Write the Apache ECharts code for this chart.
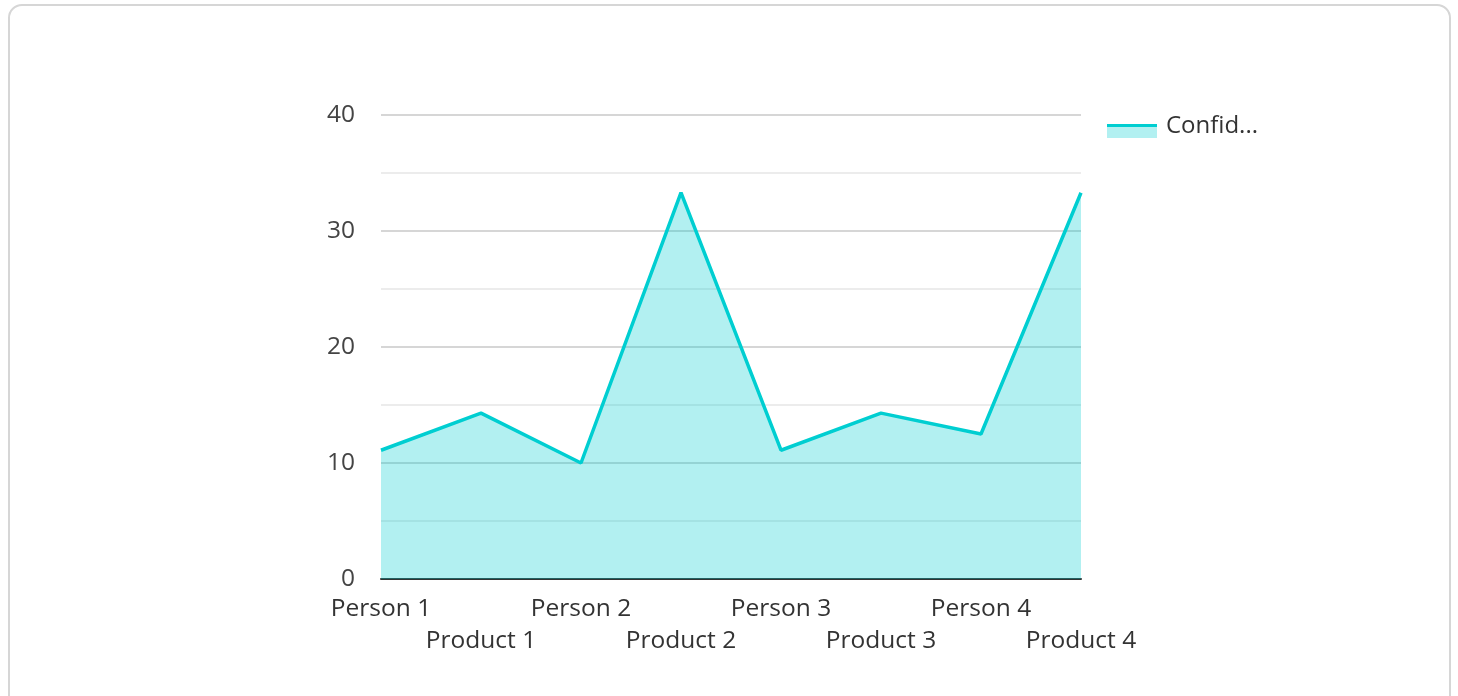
<!DOCTYPE html>
<html>
<head>
<meta charset="utf-8">
<script src="https://cdn.jsdelivr.net/npm/echarts@6/dist/echarts.min.js"></script>
<style>
  html, body { margin: 0; padding: 0; background: #fff; }
  #frame {
    position: absolute; left: 8px; top: 4px; width: 1443px; height: 720px;
    border: 2px solid #d6d6d6; border-radius: 14px; box-sizing: border-box;
  }
  #chart { position: absolute; left: 0; top: 0; width: 1458px; height: 696px; }
</style>
</head>
<body>
<div id="frame"></div>
<div id="chart"></div>
<script>
const categories = ["Person 1", "Product 1", "Person 2", "Product 2", "Person 3", "Product 3", "Person 4", "Product 4"];
const confidence = [11.1, 14.3, 10, 33.3, 11.1, 14.3, 12.5, 33.3];
const seriesName = "Confidence";
const yMin = 0, yMax = 40, yStep = 10;

const chart = echarts.init(document.getElementById("chart"));
const teal = "#00CED1";

const option = {
  textStyle: { fontFamily: "Open Sans" },
  grid: { left: 381, right: 377, top: 115, bottom: 117 },
  legend: {
    left: 1102,
    top: 106,
    icon: "rect",
    itemWidth: 50,
    itemHeight: 14,
    itemStyle: { opacity: 0 },
    textStyle: {
      fontFamily: "Open Sans", fontSize: 24, color: "#333", lineHeight: 30,
      padding: [0, 0, 0, 4],
      width: 100, overflow: "truncate", ellipsis: "..."
    },
    data: [seriesName]
  },
  xAxis: {
    type: "category",
    data: categories,
    boundaryGap: false,
    axisLine: { lineStyle: { color: "#333", width: 2 } },
    axisTick: { show: false },
    axisLabel: {
      interval: 0,
      fontSize: 24.5,
      color: "#333",
      lineHeight: 32,
      margin: 14,
      formatter: (v, i) => (i % 2 ? "\n" + v : v)
    }
  },
  yAxis: {
    type: "value",
    min: yMin,
    max: yMax,
    interval: yStep,
    axisLine: { show: false },
    axisTick: { show: false },
    axisLabel: { fontSize: 24.5, color: "#444", margin: 26 },
    splitLine: { lineStyle: { color: "#c8c8c8", width: 1.5 } },
    minorTick: { show: false, splitNumber: 2 },
    minorSplitLine: { show: true, lineStyle: { color: "#e6e6e6", width: 1.5 } }
  },
  series: [
    {
      name: seriesName,
      type: "line",
      data: confidence,
      showSymbol: false,
      lineStyle: { color: teal, width: 3.5 },
      itemStyle: { color: teal },
      areaStyle: { color: teal, opacity: 0.3 }
    }
  ],
  graphic: [
    {
      type: "rect",
      left: 1107,
      top: 124,
      shape: { width: 50, height: 14 },
      style: { fill: "rgba(0,206,209,0.3)" },
      z: 100
    },
    {
      type: "rect",
      left: 1107,
      top: 124,
      shape: { width: 50, height: 3 },
      style: { fill: teal },
      z: 101
    }
  ]
};

chart.setOption(option);
</script>
</body>
</html>
